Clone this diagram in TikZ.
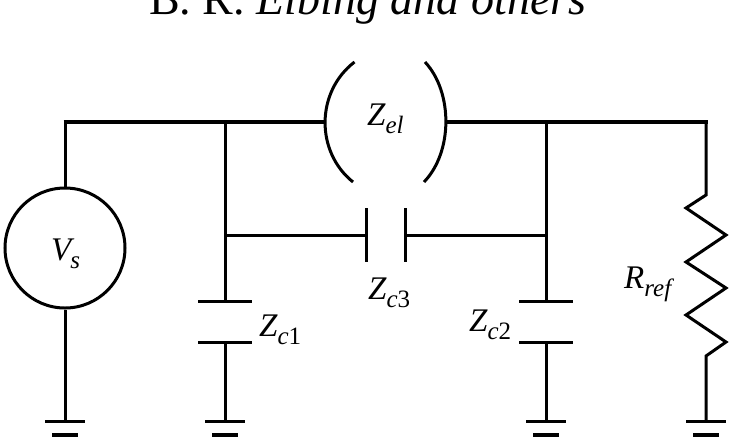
\documentclass[tikz,border=0pt]{standalone}
\usepackage{fontspec}
\setmainfont{Liberation Serif}
\tikzset{
 wire/.style={line width=3pt,line cap=butt,line join=miter},
 bus/.style={line width=3.6pt,line cap=butt,line join=miter},
 plate/.style={line width=3pt,line cap=butt},
 groundbar/.style={line width=3.4pt,line cap=butt},
 lab/.style={inner sep=0pt,anchor=base west,font=\fontsize{33}{35}\selectfont\itshape}}
\newcommand{\sublab}[1]{\raisebox{-8.5pt}{\fontsize{25}{27}\selectfont #1}}
\begin{document}
\begin{tikzpicture}[x=1pt,y=-1pt]
\useasboundingbox (0,0) rectangle (749,445);
\fill[white] (0,0) rectangle (749,445);
\node[inner sep=0pt,anchor=base west,font=\fontsize{46}{48}\selectfont] (title) at (149,14) {B. R. \textit{Elbing and others}};
\node[draw,circle,line width=3pt,minimum size=120pt,inner sep=0pt] (vs) at (65,248) {};
\node[lab] (vsl) at (51,260) {V\kern-1pt\sublab{s}};
\node[lab] (zel) at (367,125) {Z\sublab{el}};
\node[lab] (zc1) at (259,336) {Z\sublab{c\upshape 1}};
\node[lab] (zc2) at (469,331) {Z\sublab{c\upshape 2}};
\node[lab] (zc3) at (368,299) {Z\sublab{c\upshape 3}};
\node[lab] (rref) at (624,288) {R\sublab{ref}};
\coordinate (tl) at (65,122); \coordinate (t1) at (225,122); \coordinate (t2) at (546,122); \coordinate (tr) at (706,122);
\coordinate (zl) at (325,122); \coordinate (zr) at (446,122);
\draw[bus] (63.5,122) -- (zl);
\draw[bus] (zr) -- (707.5,122);
\draw[wire] (tl) -- (vs.north);
\draw[wire] (tr) -- (706,195) -- (686,208) -- (726,235) -- (686,262) -- (726,288) -- (686,315) -- (726,342) -- (706,356) -- (706,421);
\draw[wire] (354.5,62) .. controls (315.5,92) and (315.5,152) .. (353,182);
\draw[wire] (425,62) .. controls (453,92) and (453,152) .. (424,182);
\draw[wire] (t1) -- (225,301); \draw[plate] (198,301) -- (252,301); \draw[plate] (198,342) -- (252,342); \draw[wire] (225,342) -- (225,421);
\draw[wire] (t2) -- (546,301); \draw[plate] (519,301) -- (573,301); \draw[plate] (519,342) -- (573,342); \draw[wire] (546,342) -- (546,421);
\draw[wire] (225,235) -- (366,235); \draw[wire] (366,208) -- (366,262); \draw[wire] (405,208) -- (405,262); \draw[wire] (405,235) -- (546,235);
\draw[wire] (vs.south) -- (65,421);
\foreach \x in {65,225,546,706}{
\draw[plate] (\x-20,421.5) -- (\x+20,421.5);
\draw[groundbar] (\x-13,435) -- (\x+13,435);
}
\end{tikzpicture}
\end{document}
